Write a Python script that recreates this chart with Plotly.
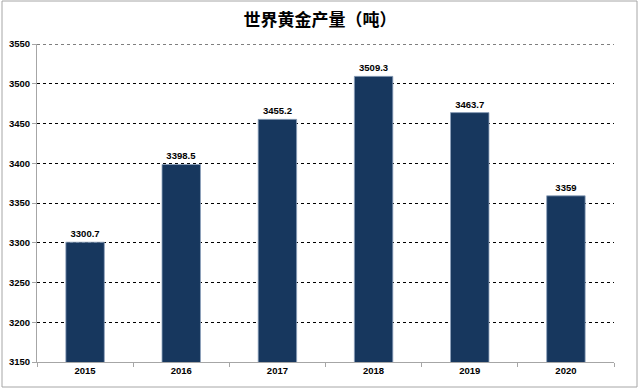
import plotly.graph_objects as go

years = ["2015", "2016", "2017", "2018", "2019", "2020"]
production = [3300.7, 3398.5, 3455.2, 3509.3, 3463.7, 3359]
labels = ["3300.7", "3398.5", "3455.2", "3509.3", "3463.7", "3359"]
title_text = "世界黄金产量（吨）"

W, H = 640, 389
L, R, T, B = 37, 26, 44, 27
pw, ph = W - L - R, H - T - B
FONT = "Liberation Sans"

fig = go.Figure(go.Bar(
    x=years, y=production, text=labels, textposition="outside",
    textfont=dict(family=FONT, size=9.5, color="#000000", weight="bold"),
    marker=dict(color="#17375E", line=dict(color="#8EA2BC", width=0.8)),
    cliponaxis=False, width=0.4,
))

fig.update_layout(
    width=W, height=H,
    margin=dict(l=L, r=R, t=T, b=B, autoexpand=False),
    paper_bgcolor="white", plot_bgcolor="white",
    title=dict(text="<b>" + title_text + "</b>", x=0.5, xref="container", xanchor="center",
               y=1 - 20 / H, yanchor="middle",
               font=dict(family="Noto Sans CJK SC", size=17, color="#000000")),
    showlegend=False,
    xaxis=dict(showline=True, linecolor="#A6A6A6", linewidth=1, ticks="outside",
               tickson="boundaries", ticklen=4, tickcolor="#A6A6A6", automargin=False,
               tickfont=dict(family=FONT, size=9.5, color="#000000", weight="bold"),
               showgrid=False),
    yaxis=dict(range=[3150, 3550], dtick=50, showline=True, automargin=False,
               linecolor="#A6A6A6", linewidth=1,
               ticks="outside", ticklen=4, tickcolor="#A6A6A6",
               tickfont=dict(family=FONT, size=9.5, color="#000000", weight="bold"),
               showgrid=True, gridcolor="#000000", gridwidth=1, griddash="dot",
               zeroline=False),
    shapes=[
        dict(type="rect", xref="paper", yref="paper",
             x0=(2 - L) / pw, x1=(637 - L) / pw,
             y0=(H - B - 387) / ph, y1=(H - B - 1) / ph,
             line=dict(color="#A6A6A6", width=1), fillcolor="rgba(0,0,0,0)", layer="below"),
        dict(type="line", xref="paper", yref="y", x0=0, x1=1, y0=3550, y1=3550,
             line=dict(color="#000000", width=1, dash="dot"), layer="below"),
    ],
)

fig.write_html("out.html", config={"displayModeBar": False},
               post_script="document.body.style.margin='0';")
